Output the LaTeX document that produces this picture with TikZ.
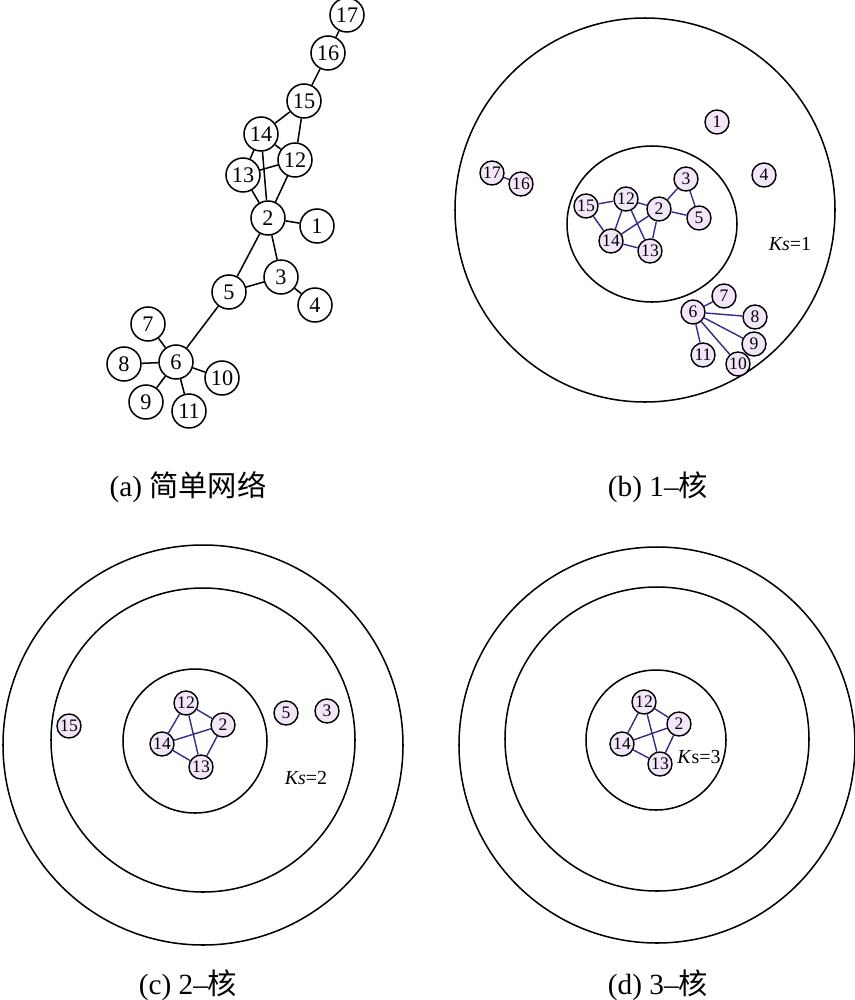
\documentclass[tikz,border=0pt]{standalone}
\usepackage{fontspec}
\setmainfont{Liberation Serif}
\newfontfamily\cjk{Noto Sans CJK SC}
\usetikzlibrary{positioning}
\definecolor{nodefill}{RGB}{242,230,248}
\definecolor{linkblue}{RGB}{55,40,140}
\tikzset{
	vertex/.style = {circle, draw=black, line width=1.3pt, fill=white, inner sep=0pt,
			minimum size=1.02cm, font=\fontsize{19}{19}\selectfont},
	kvertex/.style = {circle, draw=black, line width=1.2pt, fill=nodefill, inner sep=0pt,
			minimum size=0.72cm, font=\fontsize{15}{15}\selectfont},
	link/.style = {draw=black, line width=1.3pt},
	klink/.style = {draw=linkblue, line width=1.2pt},
	ring/.style = {draw=black, line width=1.3pt},
	caption/.style = {font=\fontsize{25}{25}\selectfont},
}
\begin{document}
\begin{tikzpicture}[x=0.03cm,y=-0.03cm]
	\useasboundingbox (0,0) rectangle (854,1000);
	% (a)
	\foreach \n/\x/\y in {17/347/15,16/328/53,15/304/101,14/261/134,12/295/160,13/243/175,
			2/268/218,1/317/226,3/281/277,4/315/305,5/229/292,7/148/324,6/176/362,
			8/124/364,10/222/378,9/146/402,11/189/411}
		\node[vertex] (a\n) at (\x,\y) {\n};
	\foreach \u/\v in {17/16,16/15,15/14,15/12,14/12,14/13,14/2,13/12,13/2,12/2,2/1,2/3,
			2/5,5/3,3/4,5/6,6/7,6/8,6/9,6/10,6/11}
		\draw[link] (a\u) -- (a\v);
	\node[caption] (capa) at (188,487) {(a) {\cjk 简单网络}};
	% (b)
	\draw[ring] (645,210) ellipse (190 and 192);
	\draw[ring] (652,224) ellipse (85 and 78);
	\foreach \n/\x/\y in {1/717/122,4/764/175,17/492/173,16/521/184,15/586/206,12/626/199,
			2/659/209,3/686/179,5/699/218,14/611/241,13/650/251,7/724/296,6/693/312,
			8/755/317,9/754/344,10/738/364,11/703/355}
		\node[kvertex] (b\n) at (\x,\y) {\n};
	\foreach \u/\v in {17/16,15/12,15/14,12/2,12/14,12/13,2/14,2/13,2/3,2/5,3/5,14/13,
			6/7,6/8,6/9,6/10,6/11}
		\draw[klink] (b\u) -- (b\v);
	\node[font=\fontsize{17}{17}\selectfont] (ksb) at (790,244) {\textit{Ks}=1};
	\node[caption] (capb) at (658,487) {(b) 1--{\cjk 核}};
	% (c)
	\draw[ring] (203,745) circle (200);
	\draw[ring] (203,740) circle (152);
	\draw[ring] (195,741) circle (72);
	\foreach \n/\x/\y in {12/186/703,2/223/725,14/162/744,13/201/767,15/69/726,5/286/713,3/327/711}
		\node[kvertex] (c\n) at (\x,\y) {\n};
	\foreach \u/\v in {12/2,12/14,12/13,2/14,2/13,14/13}
		\draw[klink] (c\u) -- (c\v);
	\node[font=\fontsize{17}{17}\selectfont] (ksc) at (306,778) {\textit{Ks}=2};
	\node[caption] (capc) at (188,985) {(c) 2--{\cjk 核}};
	% (d)
	\draw[ring] (657,745) circle (198);
	\draw[ring] (657,739) circle (152);
	\draw[ring] (656,740) circle (70);
	\foreach \n/\x/\y in {12/644/702,2/679/724,14/622/744,13/660/764}
		\node[kvertex] (d\n) at (\x,\y) {\n};
	\foreach \u/\v in {12/2,12/14,12/13,2/14,2/13,14/13}
		\draw[klink] (d\u) -- (d\v);
	\node[font=\fontsize{17}{17}\selectfont] (ksd) at (699,757) {\textit{K}s=3};
	\node[caption] (capd) at (658,985) {(d) 3--{\cjk 核}};
\end{tikzpicture}
\end{document}
